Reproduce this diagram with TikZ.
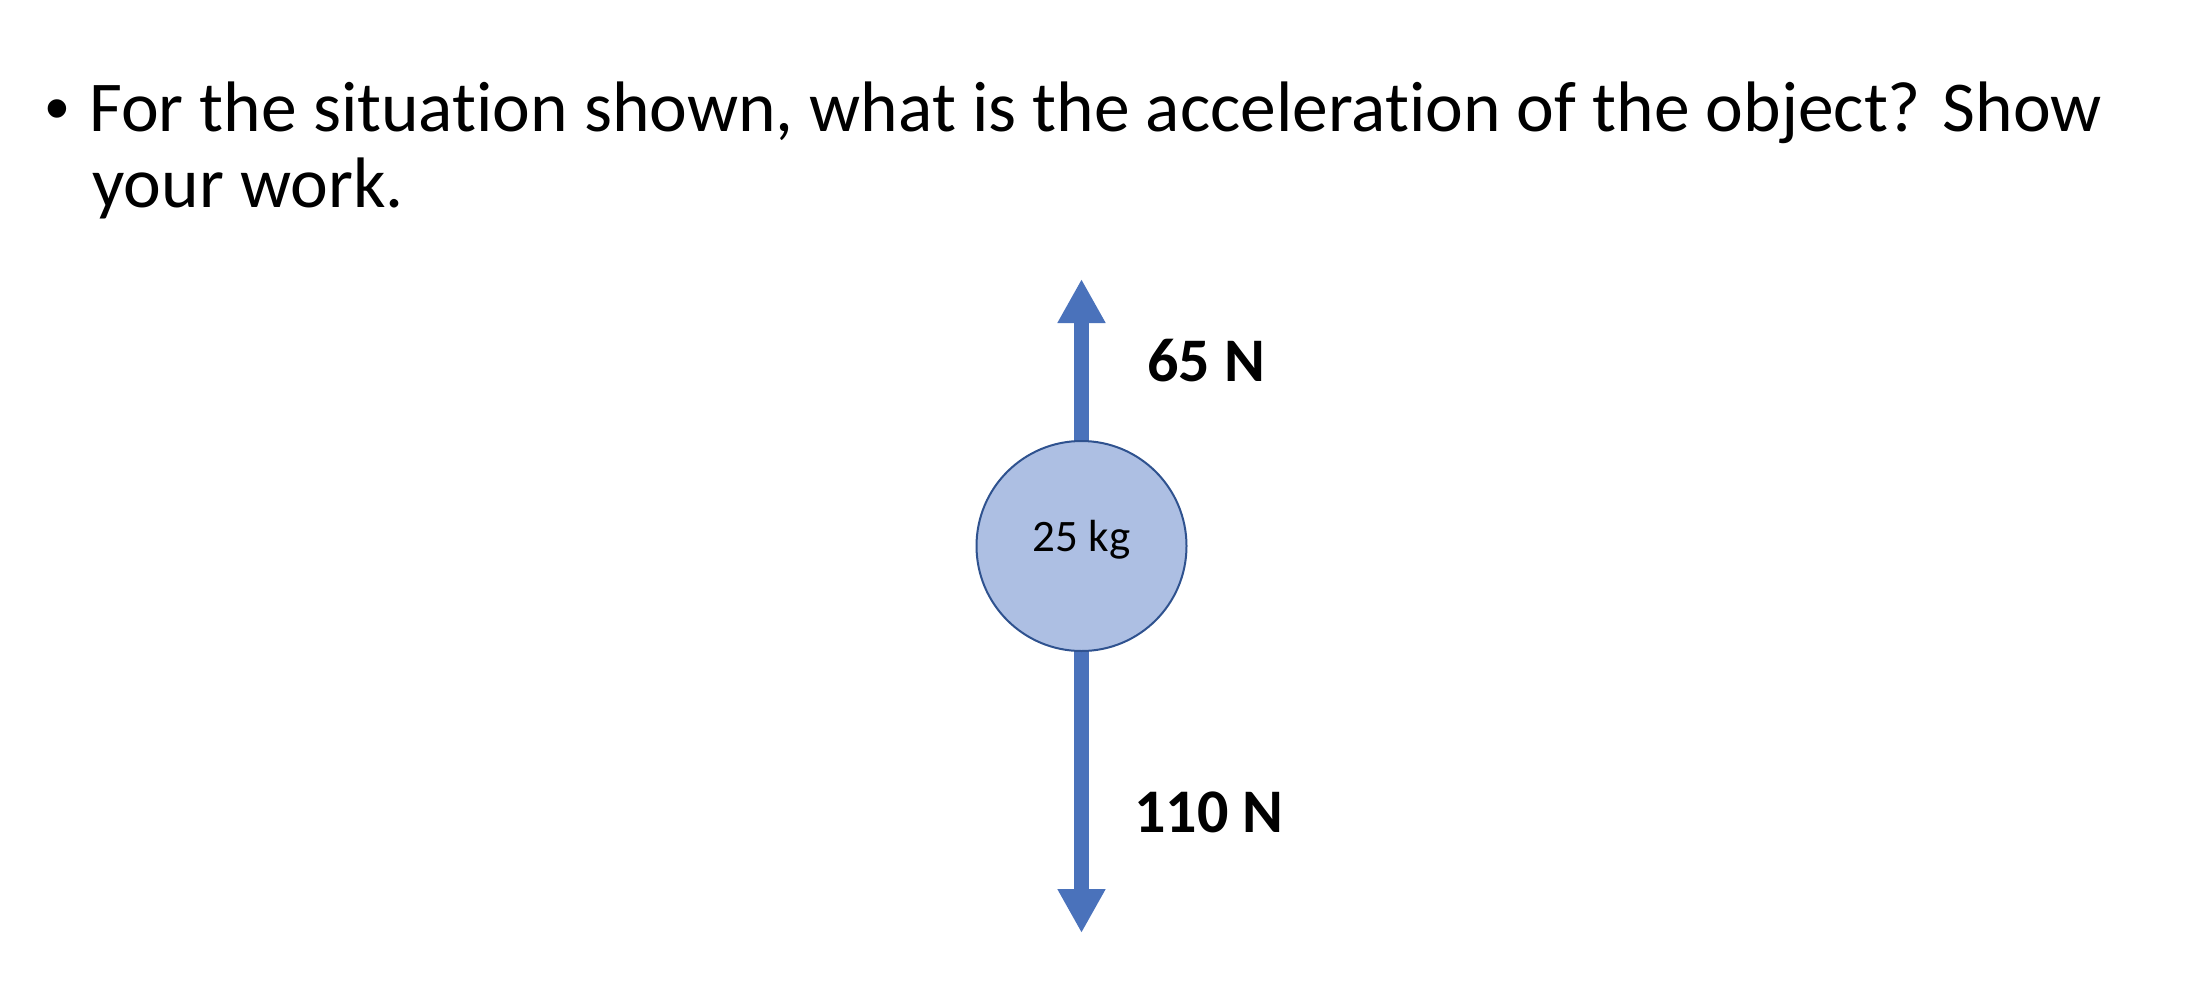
\documentclass[tikz,border=0pt]{standalone}
\usepackage{fontspec}
\setmainfont{Carlito}[Ligatures=NoCommon]
\newfontfamily\bulletfont{Liberation Sans}
\usetikzlibrary{arrows.meta,backgrounds}
\definecolor{arrowblue}{HTML}{4A72BB}
\definecolor{ballfill}{HTML}{ADBFE3}
\definecolor{balledge}{HTML}{2F528F}
\begin{document}
\begin{tikzpicture}[x=1pt,y=-1pt,
  force/.style={draw=arrowblue, line width=15pt, -{Triangle[width=45pt,length=44pt]}},
  title/.style={anchor=base west, inner sep=0pt, font=\fontsize{71.5}{76}\selectfont},
  flabel/.style={anchor=base west, inner sep=0pt, font=\fontsize{62}{70}\selectfont\bfseries},
  ball/.style={circle, draw=balledge, fill=ballfill, line width=2pt, minimum size=210pt, inner sep=0pt},
  mass/.style={anchor=base, inner sep=0pt, font=\fontsize{45}{54}\selectfont}
]
\useasboundingbox (0,0) rectangle (2206,986);
\node[title, font=\fontsize{68}{76}\selectfont\bulletfont] (bullet) at (45,131) {•};
\node[title] (line1) at (89,131) {For the situation shown, what is the acceleration of the object? Show};
\node[title] (line2) at (92,207) {your work.};
\node[ball] (ball) at (1081.5,546) {};
\node[mass] (mass) at (1081.5,551) {25 kg};
\coordinate (uptip) at (1081.5,279);
\coordinate (downtip) at (1081.5,933);
\begin{scope}[on background layer]
\fill[white] (0,0) rectangle (2206,986);
\draw[force] (ball.center) -- (uptip);
\draw[force] (ball.center) -- (downtip);
\end{scope}
\node[flabel] (up) at (1147,381) {65 N};
\node[flabel] (down) at (1134,832) {110 N};
\end{tikzpicture}
\end{document}
